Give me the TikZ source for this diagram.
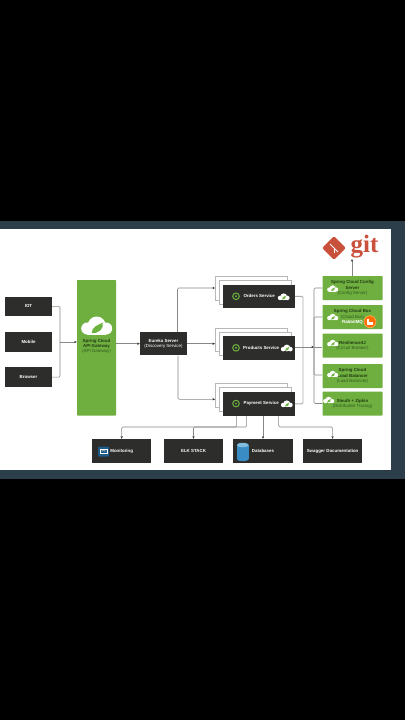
\documentclass[tikz,border=0pt]{standalone}
\usepackage{fontspec}
\setmainfont{Liberation Sans}
\newfontfamily\gitfont{Liberation Serif}
\usetikzlibrary{arrows.meta,shapes.geometric}

\definecolor{bandcolor}{HTML}{2C3E4A}
\definecolor{boxdark}{HTML}{2D2D2B}
\definecolor{springgreen}{HTML}{6FAF40}
\definecolor{leafgreen}{HTML}{6DB33F}
\definecolor{linegray}{HTML}{858A86}
\definecolor{gitred}{HTML}{C9513B}
\definecolor{inkgreen}{HTML}{1F3A12}
\definecolor{softgreen}{HTML}{2F5A1E}
\definecolor{monitorblue}{HTML}{1F5C8A}
\definecolor{dbblue}{HTML}{3A8CC4}
\definecolor{dbtop}{HTML}{7FBCE0}

\tikzset{
  darkbox/.style={fill=boxdark, text=white, inner sep=0pt, align=center,
    font=\fontsize{4.4}{5.4}\selectfont\bfseries},
  clientbox/.style={darkbox, minimum width=47pt, minimum height=19.5pt},
  servicebox/.style={darkbox, minimum width=71.5pt, minimum height=23.5pt},
  toolbox/.style={darkbox, minimum width=59.5pt, minimum height=24pt},
  sheetbox/.style={draw=linegray!60, fill=white, line width=.4pt,
    minimum width=71.5pt, minimum height=23.5pt},
  greenbox/.style={fill=springgreen, text=inkgreen, inner sep=0pt, align=center,
    minimum width=60pt, minimum height=24pt, rounded corners=.6pt,
    font=\fontsize{4.4}{5.2}\selectfont},
  link/.style={draw=linegray, line width=.55pt, rounded corners=1.2pt},
  arrowlink/.style={link, -{Stealth[length=2.6pt,width=2.2pt,color=boxdark]}},
  cloudicon/.pic={
    \fill[white] (-9.5,3) circle (6);
    \fill[white] (9.5,3) circle (6);
    \fill[white] (0,0) circle (9);
    \fill[white] (-9.5,3) rectangle (9.5,9);
    \fill[leafgreen] (-5,7.5) .. controls (-5,1) and (1,0) .. (6,-3) .. controls (7.5,3) and (2,8.5) .. cycle;
  },
  springicon/.pic={
    \draw[leafgreen, line width=1pt] (0,0) circle (3.3);
    \fill[leafgreen] (0,0) circle (1.1);
  }
}

\begin{document}
\begin{tikzpicture}[x=1pt,y=-1pt]
  \useasboundingbox (0,0) rectangle (405,720);

  % 背景
  \fill[black] (0,0) rectangle (405,720);
  \fill[bandcolor] (0,221) rectangle (405,479);
  \fill[white] (0,229) rectangle (391,470);

  % 左侧客户端
  \node[clientbox] (iot) at (28.5,306.3) {IOT};
  \node[clientbox] (mobile) at (28.5,341.8) {Mobile};
  \node[clientbox] (browser) at (28.5,377.2) {Browser};

  % 网关
  \node[greenbox, minimum width=39pt, minimum height=135.5pt] (gateway) at (96.5,347.8)
    {\textbf{Spring Cloud}\\\textbf{API Gateway}\\{\color{softgreen}(API Gateway)}\\[-1.4pt]\mbox{}};
  \pic at (96.7,325.5) {cloudicon};

  % 注册中心
  \node[darkbox, minimum width=47pt, minimum height=23.5pt] (eureka) at (163.5,343.7) {Eureka Server\\[-.3pt]{\mdseries (Discovery Service)}};

  % 服务
  \node[sheetbox] (ordersback) at (251,288) {};
  \node[sheetbox] (ordersmid) at (255.2,292) {};
  \node[servicebox] (orders) at (259.2,296.3) {Orders Service};
  \node[sheetbox] (productsback) at (251,339.5) {};
  \node[sheetbox] (productsmid) at (255.2,343.5) {};
  \node[servicebox] (products) at (259.2,348) {\hspace*{4pt}Products Service};
  \node[sheetbox] (paymentback) at (251,395.3) {};
  \node[sheetbox] (paymentmid) at (255.2,399.3) {};
  \node[servicebox] (payment) at (259.2,403.8) {\hspace*{4pt}Payment Service};

  % 服务图标
  \pic at (236,296.3) {springicon};
  \pic at (236,347.8) {springicon};
  \pic at (236,403.6) {springicon};
  \pic[scale=.38] at (283.7,296.8) {cloudicon};
  \pic[scale=.38] at (286.8,348) {cloudicon};
  \pic[scale=.38] at (286.8,403.8) {cloudicon};

  % 右侧组件
  \node[greenbox] (config) at (352.5,288) {\textbf{Spring Cloud Config}\\\textbf{Server}\\{\color{softgreen}(Config Server)}};
  \node[greenbox] (bus) at (352.5,317) {\textbf{Spring Cloud Bus}\\{\color{softgreen}(Cloud Bus)}\\{\color{white}\textbf{RabbitMQ}}};
  \node[greenbox] (resilience) at (352.5,345.5) {\textbf{Resilience4J}\\{\color{softgreen}(Circuit Breaker)}};
  \node[greenbox] (balancer) at (352.5,376) {\textbf{Spring Cloud}\\\textbf{Load Balancer}\\{\color{softgreen}(Load Balancer)}};
  \node[greenbox] (sleuth) at (352.5,403.5) {\textbf{Sleuth + Zipkin}\\{\color{softgreen}(Distributed Tracing)}};
  \pic[scale=.36] at (332.7,288.5) {cloudicon};
  \pic[scale=.36] at (332.7,317) {cloudicon};
  \pic[scale=.36] at (332.7,343) {cloudicon};
  \pic[scale=.36] at (332.7,374) {cloudicon};
  \pic[scale=.36] at (328.7,400) {cloudicon};

  % RabbitMQ 图标
  \node[circle, fill=orange!85!red, draw=orange!60!white, line width=.6pt, minimum size=12pt, inner sep=0pt] (rabbit) at (370,321.7) {};
  \fill[white] (367,318.5) rectangle (368.6,325);
  \fill[white] (367,321.5) rectangle (373,325);

  % git
  \node[diamond, fill=gitred, rounded corners=2pt, minimum size=24pt, inner sep=0pt] (gitmark) at (334,248) {};
  \draw[white, line width=.9pt] (330,244) -- (338,252);
  \draw[white, line width=.9pt] (334,248) -- (334,253);
  \node[inner sep=0pt, text=gitred, font=\gitfont\fontsize{25}{25}\selectfont\bfseries] (gitword) at (364.5,246.5) {git};
  \coordinate (gitarrow) at (352,259);

  % 底部工具
  \node[toolbox] (monitoring) at (121.7,451) {Monitoring};
  \node[toolbox] (elk) at (193.5,451) {ELK STACK};
  \node[toolbox] (databases) at (263,451) {Databases};
  \node[toolbox] (swagger) at (332.6,451) {Swagger Documentation};
  \node[fill=monitorblue, rounded corners=.8pt, minimum width=11pt, minimum height=10pt, inner sep=0pt] (monitoricon) at (103.5,451.5) {};
  \draw[white, line width=.5pt] (100,448.8) rectangle (107,453);
  \draw[white, line width=.4pt] (100.5,451) -- (102.5,451) -- (103.5,449.8) -- (104.5,451) -- (106.5,451);

  % 数据库图标
  \fill[dbblue] (236.8,445) rectangle (248.8,459);
  \fill[dbblue] (242.8,459) ellipse (6 and 2.2);
  \fill[dbtop] (242.8,445) ellipse (6 and 2.2);

  % 连线
  \coordinate (clientbus) at (60,342);
  \coordinate (ordersturn) at (177.5,288);
  \coordinate (paymentturn) at (178,399.3);
  \coordinate (servicebus) at (303,347);
  \coordinate (greenbus) at (314,347);
  \coordinate (toolrail) at (193.5,427);
  \draw[link] (iot.east) -| (clientbus);
  \draw[link] (browser.east) -| (clientbus);
  \draw[arrowlink] (clientbus) -- (gateway.west |- clientbus);
  \draw[arrowlink] (gateway.east |- eureka.east) -- (eureka.west);
  \draw[arrowlink] (eureka.north -| ordersturn) -- (ordersturn) -- (ordersback.west);
  \draw[arrowlink] (eureka.east) -- (productsback.west |- eureka.east);
  \draw[arrowlink] (eureka.south -| paymentturn) -- (paymentturn) -- (paymentback.west |- paymentturn);
  \draw[link, draw=linegray!70, line width=.9pt] (orders.east) -| (servicebus);
  \draw[link, draw=linegray!70, line width=.9pt] (payment.east) -| (servicebus);
  \draw[arrowlink] (products.east |- greenbus) -- (greenbus);
  \draw[link] (config.west) -| (greenbus);
  \draw[link] (bus.west |- 0,317) -| (greenbus);
  \draw[link] (greenbus) -- (resilience.west |- greenbus);
  \draw[link] (balancer.west |- 0,375) -| (greenbus);
  \draw[link] (sleuth.west) -| (greenbus);
  \draw[arrowlink] (config.north -| gitarrow) -- (gitarrow);
  \draw[arrowlink] (payment.south -| 246.7,0) |- (toolrail) -| (monitoring.north);
  \draw[arrowlink] (payment.south -| 236.7,0) |- (toolrail) -- (elk.north);
  \draw[arrowlink] (payment.south -| databases.north) -- (databases.north);
  \draw[arrowlink] (payment.south -| 278.7,0) |- (toolrail -| swagger.north) -- (swagger.north);

\end{tikzpicture}
\end{document}
